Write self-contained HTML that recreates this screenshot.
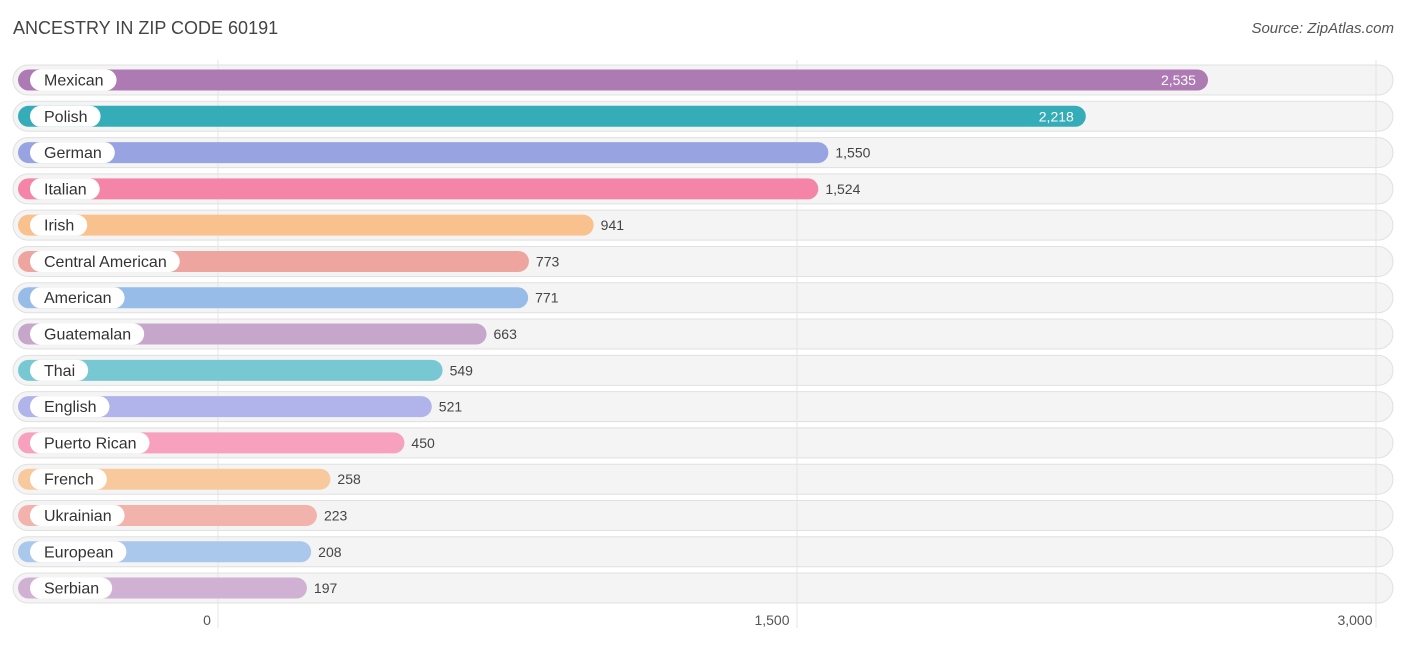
<!DOCTYPE html>
<html><head><meta charset="utf-8"><style>
body{margin:0;background:#fff;width:1406px;height:644px;overflow:hidden;font-family:"Liberation Sans",sans-serif}
</style></head><body>
<svg id="chart" width="1406" height="644">
<text x="13" y="34" font-size="18" fill="#444">ANCESTRY IN ZIP CODE 60191</text>
<text x="1394" y="33" font-size="15" fill="#555" font-style="italic" text-anchor="end">Source: ZipAtlas.com</text>
<g id="rows"></g><g id="grid"></g><g id="bars"></g>
</svg>
<script>
const categories=["Mexican","Polish","German","Italian","Irish","Central American","American","Guatemalan","Thai","English","Puerto Rican","French","Ukrainian","European","Serbian"];
const values=[2535,2218,1550,1524,941,773,771,663,549,521,450,258,223,208,197];
const colors=["#ae7ab3","#35adb9","#98a4e2","#f584a9","#f9c18e","#eea59f","#97bce8","#c6a6ca","#78c8d4","#b0b4ea","#f7a1bf","#f9c99e","#f3b3ad","#a9c8ec","#d1b1d3"];
const ticks=[0,1500,3000];
const tickLabels=["0","1,500","3,000"];
const NS="http://www.w3.org/2000/svg";
const gx=v=>218+v*0.386;
const bx=v=>231+v*0.3854;
const ry=i=>80+i*36.29;
function mk(t,a,p){const e=document.createElementNS(NS,t);for(const k in a)e.setAttribute(k,a[k]);p.appendChild(e);return e;}
const rows=document.getElementById('rows'),grid=document.getElementById('grid'),bars=document.getElementById('bars');
categories.forEach((c,i)=>{
  const y=ry(i);
  const bg=mk('rect',{x:13,y:y-15,width:1380,height:30,rx:15,fill:'#f4f4f4',stroke:'#e0e0e0','stroke-width':1},rows);
  
  
});
ticks.forEach((t,j)=>{
  const l=mk('line',{x1:gx(t),x2:gx(t),y1:60,y2:628,stroke:'#e4e4e4','stroke-width':1},grid);
  
  
  const tx=mk('text',{x:gx(t)-(j==0?11:j==1?25:21),y:625,'font-size':14,fill:'#555','text-anchor':'middle'},grid);
  tx.textContent=tickLabels[j];
  
  
});
categories.forEach((c,i)=>{
  const y=ry(i),v=values[i],end=bx(v);
  const b=mk('rect',{x:18,y:y-10.5,width:end-18,height:21,rx:10.5,fill:colors[i]},bars);
  
  
  const lp=mk('rect',{x:30,y:y-10.5,width:80,height:21,rx:10.5,fill:'#fff'},bars);
  
  
  const lt=mk('text',{x:44,y:y+5.5,'font-size':16,fill:'#333'},bars);
  lt.textContent=c;
  
  
  lp.setAttribute('width',lt.getComputedTextLength()+27);
  const inside=i<2;
  const vt=mk('text',{x:inside?end-12:end+7,y:y+5,'font-size':14,fill:inside?'#fff':'#444','text-anchor':inside?'end':'start'},bars);
  vt.textContent=v.toLocaleString('en-US');
  
  
});
</script>
</body></html>
